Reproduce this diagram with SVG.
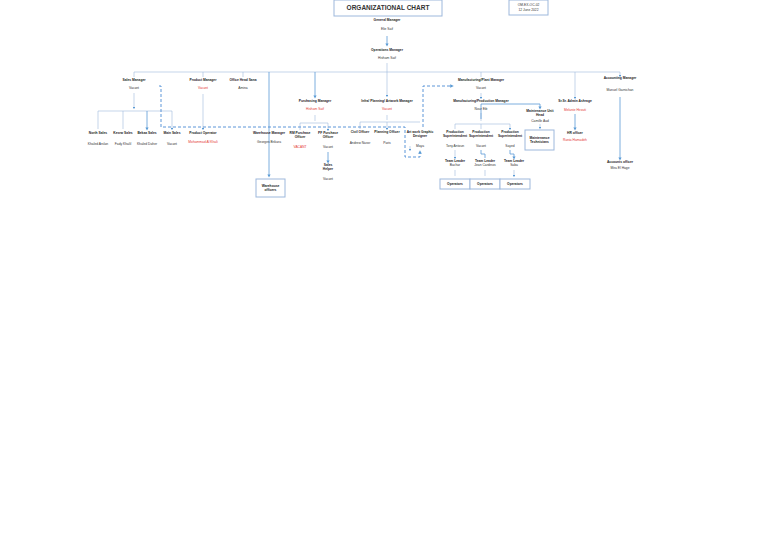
<svg xmlns="http://www.w3.org/2000/svg" width="768" height="543" viewBox="0 0 768 543">
<style>
text{font-family:"Liberation Sans",Arial,sans-serif;text-anchor:middle;font-size:3.3px;fill:#333}
.t{font-weight:bold;fill:#222}
.r{fill:#e53935}
.box{fill:#fff;stroke:#9db8dc;stroke-width:1}
.l{stroke:#5b9bd5;stroke-width:0.8;fill:none}
.lt{stroke:#9db8dc;stroke-width:0.6;fill:none}
.d{stroke:#4a8ad4;stroke-width:0.9;fill:none;stroke-dasharray:3,2}
</style>
<defs><marker id="a" markerWidth="4" markerHeight="4" refX="2" refY="2" orient="auto"><path d="M0,0L4,2L0,4z" fill="#5b9bd5"/></marker></defs>
<rect width="768" height="543" fill="#fff"/>
<g id="title"><rect class="box" x="334" y="0" width="108" height="16"/><text x="388" y="10" style="font-size:6.5px;font-weight:bold">ORGANIZATIONAL CHART</text></g>
<g id="code"><rect class="box" x="509" y="0" width="39" height="15"/><text x="528.5" y="6">OM-EX-OC-02</text><text x="528.5" y="11">12 June 2022</text></g>
<g id="connectors">
<path class="l" d="M387,36V45" marker-end="url(#a)"/>
<path class="lt" d="M387,63V96" marker-end="url(#a)"/>
<path class="lt" d="M134,72H620"/>
<path class="lt" d="M134,72V77M203,72V77M243,72V77M481,72V77M620,72V76" marker-end="url(#a)"/>
<path class="l" d="M269,72V176" marker-end="url(#a)"/>
<path class="l" d="M315,72V97" marker-end="url(#a)"/>
<path class="lt" d="M575,72V98" marker-end="url(#a)"/>
<path class="lt" d="M134,93V108" marker-end="url(#a)"/>
<path class="lt" d="M98,111H172M98,111V129M123,111V129M172,111V129" marker-end="url(#a)"/>
<path class="l" d="M147,111V129" marker-end="url(#a)"/>
<path class="lt" d="M203,94V129" marker-end="url(#a)"/>
<path class="lt" d="M315,115V121M300,123H328M300,123V130M328,123V130" marker-end="url(#a)"/>
<path class="l" d="M328,152V162" marker-end="url(#a)"/>
<path class="lt" d="M387,115V120M360,122H420M360,122V129M387,122V129" marker-end="url(#a)"/>
<path class="lt" d="M481,93V98" marker-end="url(#a)"/>
<path class="lt" d="M481,113V121M455,124H510M455,124V129M481,124V129M510,124V129" marker-end="url(#a)"/>
<path class="l" d="M481,119V104H540V108" marker-end="url(#a)"/>
<path class="lt" d="M540,124V128" marker-end="url(#a)"/>
<path class="l" d="M575,114V129" marker-end="url(#a)"/>
<path class="l" d="M620,97V159" marker-end="url(#a)"/>
<path class="lt" d="M455,150V158" marker-end="url(#a)"/>
<path class="l" d="M481,150V154H485V158M510,150V154H514V158" marker-end="url(#a)"/>
<path class="lt" d="M455,170V176M485,170V176M514,170V176" marker-end="url(#a)"/>
<path class="lt" d="M410,146V150" marker-end="url(#a)"/>
<path class="d" d="M159,86H161V127H405V157H420V152" marker-end="url(#a)"/>
<path class="d" d="M423,127V86H452" marker-end="url(#a)"/>
</g>
<g id="gm"><text class="t" x="387" y="21">General Manager</text><text x="387" y="30">Elie Saif</text></g>
<g id="om"><text class="t" x="387" y="51">Operations Manager</text><text x="387" y="59">Hisham Saif</text></g>
<g id="sales"><text class="t" x="134" y="81">Sales Manager</text><text x="134" y="89">Vacant</text></g>
<g id="prodm"><text class="t" x="203" y="81">Product Manager</text><text class="r" x="203" y="89">Vacant</text></g>
<g id="office"><text class="t" x="243" y="81">Office Head Sana</text><text x="243" y="89">Amina</text></g>
<g id="north"><text class="t" x="98" y="134">North Sales</text><text x="98" y="145">Khaled Arslan</text></g>
<g id="kesr"><text class="t" x="123" y="134">Kesrw Sales</text><text x="123" y="145">Fady Khalil</text></g>
<g id="bekaa"><text class="t" x="147" y="134">Bekaa Sales</text><text x="147" y="145">Khaled Daher</text></g>
<g id="main"><text class="t" x="172" y="134">Main Sales</text><text x="172" y="145">Vacant</text></g>
<g id="prodop"><text class="t" x="203" y="134">Product Operator</text><text class="r" x="203" y="143">Mohammad Al Khali</text></g>
<g id="wh"><text class="t" x="269" y="134">Warehouse Manager</text><text x="269" y="143">Georges Brikara</text></g>
<g id="who"><rect class="box" x="256" y="179" width="29" height="18"/><text class="t" x="270.5" y="187">Warehouse</text><text class="t" x="270.5" y="191">officers</text></g>
<g id="purch"><text class="t" x="315" y="102">Purchasing Manager</text><text class="r" x="315" y="110">Hisham Saif</text></g>
<g id="rmp"><text class="t" x="300" y="134">RM Purchase</text><text class="t" x="300" y="138">Officer</text><text class="r" x="300" y="148">VACANT</text></g>
<g id="pfp"><text class="t" x="328" y="134">PF Purchase</text><text class="t" x="328" y="138">Officer</text><text x="328" y="148">Vacant</text></g>
<g id="helper"><text class="t" x="328" y="166">Sales</text><text class="t" x="328" y="170">Helper</text><text x="328" y="180">Vacant</text></g>
<g id="infra"><text class="t" x="387" y="102">Infra/ Planning/ Artwork Manager</text><text class="r" x="387" y="110">Vacant</text></g>
<g id="civil"><text class="t" x="360" y="133">Civil Officer</text><text x="360" y="144">Andrew Nassr</text></g>
<g id="plan"><text class="t" x="387" y="133">Planning Officer</text><text x="387" y="144">Paris</text></g>
<g id="art"><text class="t" x="420" y="133">Art work Graphic</text><text class="t" x="420" y="137">Designer</text><text x="420" y="147">Maya</text></g>
<g id="mpm"><text class="t" x="481" y="81">Manufacturing/Plant Manager</text><text x="481" y="89">Vacant</text></g>
<g id="mprod"><text class="t" x="481" y="102">Manufacturing/Production Manager</text><text x="481" y="110">Nour Eib</text></g>
<g id="ps1"><text class="t" x="455" y="133">Production</text><text class="t" x="455" y="137">Superintendent</text><text x="455" y="147">Tony Antoun</text></g>
<g id="ps2"><text class="t" x="481" y="133">Production</text><text class="t" x="481" y="137">Superintendent</text><text x="481" y="147">Vacant</text></g>
<g id="ps3"><text class="t" x="510" y="133">Production</text><text class="t" x="510" y="137">Superintendent</text><text x="510" y="147">Sayed</text></g>
<g id="tl1"><text class="t" x="455" y="162">Team Leader</text><text x="455" y="166">Bachar</text></g>
<g id="tl2"><text class="t" x="485" y="162">Team Leader</text><text x="485" y="166">Jean Cardinos</text></g>
<g id="tl3"><text class="t" x="514" y="162">Team Leader</text><text x="514" y="166">Saba</text></g>
<g id="op1"><rect class="box" x="440" y="179" width="30" height="10"/><text class="t" x="455" y="185">Operators</text></g>
<g id="op2"><rect class="box" x="470" y="179" width="30" height="10"/><text class="t" x="485" y="185">Operators</text></g>
<g id="op3"><rect class="box" x="500" y="179" width="30" height="10"/><text class="t" x="515" y="185">Operators</text></g>
<g id="muh"><text class="t" x="540" y="112">Maintenance Unit</text><text class="t" x="540" y="116">Head</text><text x="540" y="122">Camille Aad</text></g>
<g id="mt"><rect class="box" x="525" y="130" width="29" height="20"/><text class="t" x="539.5" y="139">Maintenance</text><text class="t" x="539.5" y="143">Technicians</text></g>
<g id="admin"><text class="t" x="575" y="102">Sr.Sr. Admin Ashrage</text><text class="r" x="575" y="111">Melanie Hirouti</text></g>
<g id="hr"><text class="t" x="575" y="134">HR officer</text><text class="r" x="575" y="141">Rania Hamadeh</text></g>
<g id="acc"><text class="t" x="620" y="79">Accounting Manager</text><text x="620" y="91">Manuel Garnichan</text></g>
<g id="acco"><text class="t" x="620" y="163">Accounts officer</text><text x="620" y="169">Mira El Hage</text></g>
</svg>
